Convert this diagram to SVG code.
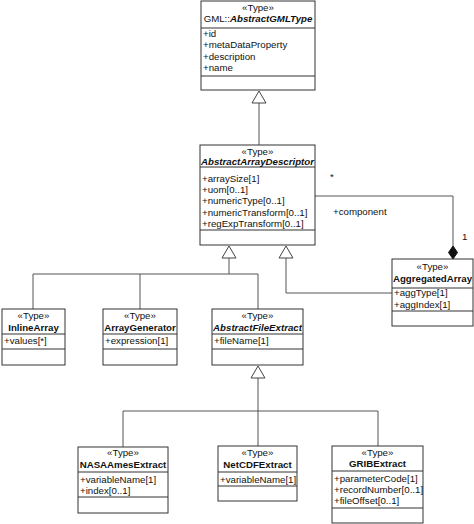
<svg xmlns="http://www.w3.org/2000/svg" width="474" height="524" viewBox="0 0 474 524">
<style>
text{font-family:"Liberation Sans",Arial,sans-serif;font-size:9.7px;fill:#111}
.st{text-anchor:middle}
.nm{text-anchor:middle;font-weight:bold}
.ab{font-style:italic}
.box{fill:#fff;stroke:#333;stroke-width:1}
.dv{fill:none;stroke:#333;stroke-width:1}
.ln{fill:none;stroke:#555;stroke-width:1}
.tri{fill:#fff;stroke:#444;stroke-width:1}
.dia{fill:#111;stroke:#111;stroke-width:1}
</style>
<rect width="474" height="524" fill="#fff"/>
<g id="connectors">
<path class="ln" d="M259,103V145"/>
<polygon class="tri" points="259,91 266,103 252,103"/>
<path class="ln" d="M315,196H453V246"/>
<polygon class="dia" points="453,246 457.5,252.5 453,259 448.5,252.5"/>
<path class="ln" d="M392,293H286V258"/>
<polygon class="tri" points="286,246 293,258 279,258"/>
<path class="ln" d="M229,258V274M33,274H258M33,274V309M140,274V309M258,274V309"/>
<polygon class="tri" points="229,246 236,258 222,258"/>
<path class="ln" d="M258,378V411M123,411H378M123,411V447M258,411V446M378,411V446"/>
<polygon class="tri" points="258,366 265,378 251,378"/>
<text x="330" y="180">*</text>
<text x="333" y="215">+component</text>
<text x="462" y="240">1</text>
</g>
<g id="AbstractGMLType">
<rect class="box" x="201" y="1" width="114" height="89"/>
<path class="dv" d="M201,28H315M201,76H315"/>
<text class="st" x="258" y="10.5">«Type»</text>
<text class="st" x="258" y="22">GML::<tspan font-weight="bold" font-style="italic">AbstractGMLType</tspan></text>
<text x="203" y="36.5">+id</text>
<text x="203" y="48">+metaDataProperty</text>
<text x="203" y="59.5">+description</text>
<text x="203" y="71">+name</text>
</g>
<g id="AbstractArrayDescriptor">
<rect class="box" x="200" y="145" width="115" height="100"/>
<path class="dv" d="M200,167H315M200,230H315"/>
<text class="st" x="257.5" y="155">«Type»</text>
<text class="nm ab" x="257.5" y="164.5">AbstractArrayDescriptor</text>
<text x="202" y="181.5">+arraySize[1]</text>
<text x="202" y="193">+uom[0..1]</text>
<text x="202" y="204">+numericType[0..1]</text>
<text x="202" y="215.5">+numericTransform[0..1]</text>
<text x="202" y="226.5">+regExpTransform[0..1]</text>
</g>
<g id="AggregatedArray">
<rect class="box" x="392" y="259" width="81" height="67"/>
<path class="dv" d="M392,288H473M392,311H473"/>
<text class="st" x="432.5" y="270">«Type»</text>
<text class="nm" x="432.5" y="281.5">AggregatedArray</text>
<text x="394" y="296">+aggType[1]</text>
<text x="394" y="307.5">+aggIndex[1]</text>
</g>
<g id="InlineArray">
<rect class="box" x="2" y="309" width="63" height="56"/>
<path class="dv" d="M2,334H65M2,349H65"/>
<text class="st" x="33.5" y="319">«Type»</text>
<text class="nm" x="33.5" y="330.5">InlineArray</text>
<text x="4" y="343.5">+values[*]</text>
</g>
<g id="ArrayGenerator">
<rect class="box" x="103" y="309" width="74" height="56"/>
<path class="dv" d="M103,334H177M103,349H177"/>
<text class="st" x="140" y="319">«Type»</text>
<text class="nm" x="140" y="330.5">ArrayGenerator</text>
<text x="105" y="343.5">+expression[1]</text>
</g>
<g id="AbstractFileExtract">
<rect class="box" x="212" y="309" width="91" height="56"/>
<path class="dv" d="M212,334H303M212,349H303"/>
<text class="st" x="257.5" y="319">«Type»</text>
<text class="nm ab" x="257.5" y="330.5">AbstractFileExtract</text>
<text x="214" y="343.5">+fileName[1]</text>
</g>
<g id="NASAAmesExtract">
<rect class="box" x="78" y="447" width="90" height="66"/>
<path class="dv" d="M78,472H168M78,497H168"/>
<text class="st" x="123" y="455.5">«Type»</text>
<text class="nm" x="123" y="467.5">NASAAmesExtract</text>
<text x="80" y="482.5">+variableName[1]</text>
<text x="80" y="493.5">+index[0..1]</text>
</g>
<g id="NetCDFExtract">
<rect class="box" x="218" y="446" width="79" height="55"/>
<path class="dv" d="M218,472H297M218,486H297"/>
<text class="st" x="257.5" y="455.5">«Type»</text>
<text class="nm" x="257.5" y="467.5">NetCDFExtract</text>
<text x="220" y="482.5">+variableName[1]</text>
</g>
<g id="GRIBExtract">
<rect class="box" x="332" y="446" width="91" height="77"/>
<path class="dv" d="M332,471H423M332,508H423"/>
<text class="st" x="377.5" y="455.5">«Type»</text>
<text class="nm" x="377.5" y="467">GRIBExtract</text>
<text x="334" y="481.5">+parameterCode[1]</text>
<text x="334" y="492.5">+recordNumber[0..1]</text>
<text x="334" y="503.5">+fileOffset[0..1]</text>
</g>
</svg>
